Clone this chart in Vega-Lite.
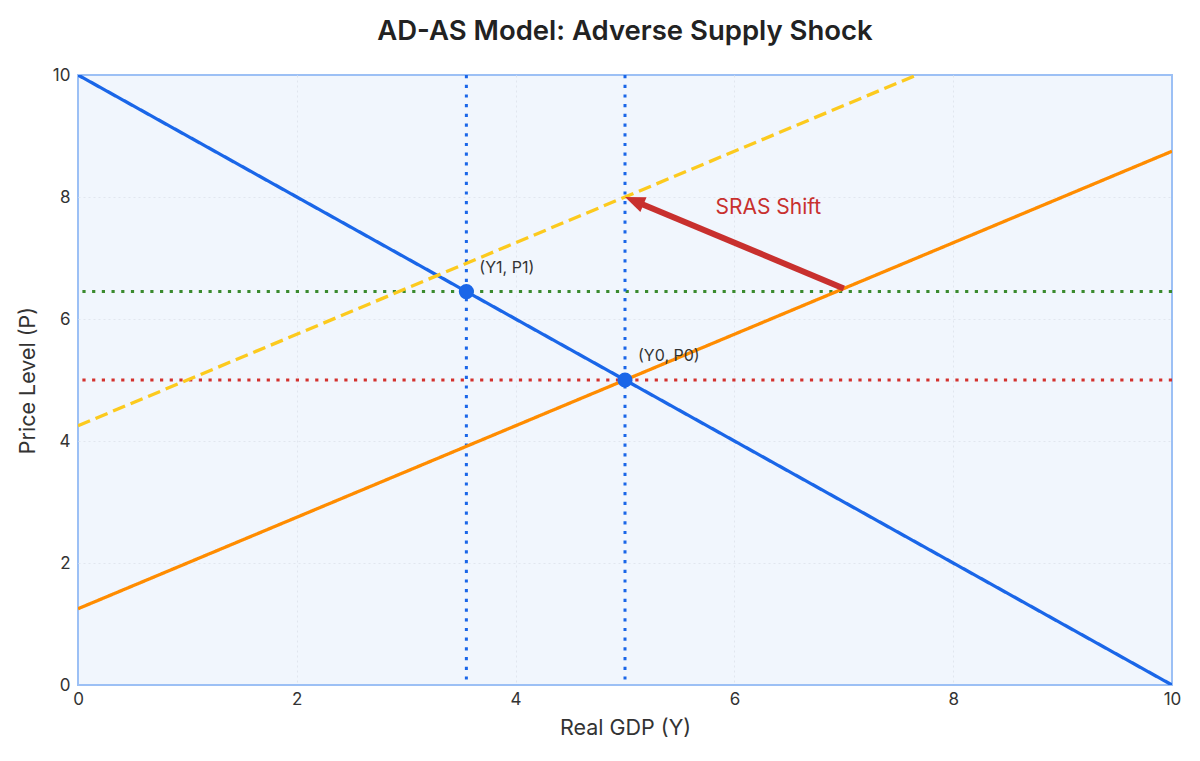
{
  "$schema": "https://vega.github.io/schema/vega-lite/v6.json",
  "width": 1094,
  "height": 610,
  "autosize": {"type": "none"},
  "padding": {"left": 78, "top": 75, "right": 28, "bottom": 76},
  "background": "white",
  "title": {"text": "AD-AS Model: Adverse Supply Shock", "font": "Inter", "fontSize": 27.5, "fontWeight": 600, "color": "#222222", "offset": 21, "anchor": "middle"},
  "config": {
    "view": {"fill": "#f1f6fd", "stroke": "#9cc0f5", "strokeWidth": 2},
    "font": "Inter",
    "axis": {"domain": false, "ticks": false, "labelFlush": false, "labelFontSize": 17, "labelColor": "#333333", "titleFontSize": 21.5, "titleFontWeight": "normal", "titleColor": "#333333", "gridColor": {"condition": {"test": "datum.value == 0 || datum.value == 10", "value": "transparent"}, "value": "#e1e6ee"}, "gridDash": [2, 3], "gridWidth": 1, "labelFont": "Inter", "titleFont": "Inter", "format": "d"}
  },
  "resolve": {"scale": {"color": "independent", "strokeDash": "independent"}},
  "datasets": {
    "curves": [
      {"curve": "AD", "Y": 0, "P": 10},
      {"curve": "AD", "Y": 10, "P": 0},
      {"curve": "SRAS0", "Y": 0, "P": 1.25},
      {"curve": "SRAS0", "Y": 10, "P": 8.75},
      {"curve": "SRAS1", "Y": 0, "P": 4.25},
      {"curve": "SRAS1", "Y": 7.667, "P": 10}
    ],
    "hlines": [
      {"level": "P1", "P": 6.45},
      {"level": "P0", "P": 5}
    ],
    "vlines": [
      {"level": "Y1", "Y": 3.55},
      {"level": "Y0", "Y": 5}
    ],
    "points": [
      {"Y": 3.55, "P": 6.45, "label": "(Y1, P1)"},
      {"Y": 5, "P": 5, "label": "(Y0, P0)"}
    ],
    "arrow": [
      {"Y": 7, "P": 6.5, "Y2": 5.152, "P2": 7.887, "tipY": 5, "tipP": 8}
    ],
    "notes": [
      {"Y": 6.31, "P": 7.82, "text": "SRAS Shift"}
    ]
  },
  "layer": [
    {
      "data": {"name": "hlines"},
      "mark": {"type": "rule", "strokeWidth": 3, "strokeDash": [3.2, 6.5]},
      "encoding": {
        "y": {"field": "P", "type": "quantitative", "scale": {"domain": [0, 10]}},
        "color": {"field": "level", "type": "nominal", "scale": {"domain": ["P1", "P0"], "range": ["#3a8a2e", "#d3312e"]}, "legend": null}
      }
    },
    {
      "data": {"name": "vlines"},
      "mark": {"type": "rule", "strokeWidth": 3, "strokeDash": [3.2, 6.5], "color": "#1a66e8"},
      "encoding": {
        "x": {"field": "Y", "type": "quantitative", "scale": {"domain": [0, 10]}}
      }
    },
    {
      "data": {"name": "curves"},
      "mark": {"type": "line", "strokeWidth": 3.3, "clip": true},
      "encoding": {
        "x": {"field": "Y", "type": "quantitative", "scale": {"domain": [0, 10], "nice": false}, "axis": {"title": "Real GDP (Y)", "values": [0, 2, 4, 6, 8, 10], "labelPadding": 6, "titlePadding": 10}},
        "y": {"field": "P", "type": "quantitative", "scale": {"domain": [0, 10], "nice": false}, "axis": {"title": "Price Level (P)", "values": [0, 2, 4, 6, 8, 10], "labelPadding": 8, "titlePadding": 13}},
        "detail": {"field": "curve"},
        "color": {"field": "curve", "type": "nominal", "scale": {"domain": ["AD", "SRAS0", "SRAS1"], "range": ["#1a66e8", "#ff8c00", "#fcca1e"]}, "legend": null},
        "strokeDash": {"field": "curve", "type": "nominal", "scale": {"domain": ["AD", "SRAS0", "SRAS1"], "range": [[1, 0], [1, 0], [13, 6]]}, "legend": null}
      }
    },
    {
      "data": {"name": "arrow"},
      "mark": {"type": "rule", "strokeWidth": 6, "color": "#c8302e"},
      "encoding": {
        "x": {"field": "Y", "type": "quantitative"},
        "y": {"field": "P", "type": "quantitative"},
        "x2": {"field": "Y2"},
        "y2": {"field": "P2"}
      }
    },
    {
      "data": {"name": "arrow"},
      "mark": {"type": "point", "shape": "M0,0L-0.8,2L0.8,2Z", "filled": true, "opacity": 1, "color": "#c8302e", "size": 400, "angle": 292.7},
      "encoding": {
        "x": {"field": "tipY", "type": "quantitative"},
        "y": {"field": "tipP", "type": "quantitative"}
      }
    },
    {
      "data": {"name": "points"},
      "mark": {"type": "point", "filled": true, "opacity": 1, "color": "#1a66e8", "size": 230},
      "encoding": {
        "x": {"field": "Y", "type": "quantitative"},
        "y": {"field": "P", "type": "quantitative"}
      }
    },
    {
      "data": {"name": "points"},
      "mark": {"type": "text", "align": "left", "baseline": "middle", "dx": 13, "dy": -24, "fontSize": 16, "color": "#333333"},
      "encoding": {
        "x": {"field": "Y", "type": "quantitative"},
        "y": {"field": "P", "type": "quantitative"},
        "text": {"field": "label"}
      }
    },
    {
      "data": {"name": "notes"},
      "mark": {"type": "text", "align": "center", "baseline": "middle", "fontSize": 21, "color": "#c8302e"},
      "encoding": {
        "x": {"field": "Y", "type": "quantitative"},
        "y": {"field": "P", "type": "quantitative"},
        "text": {"field": "text"}
      }
    }
  ]
}
